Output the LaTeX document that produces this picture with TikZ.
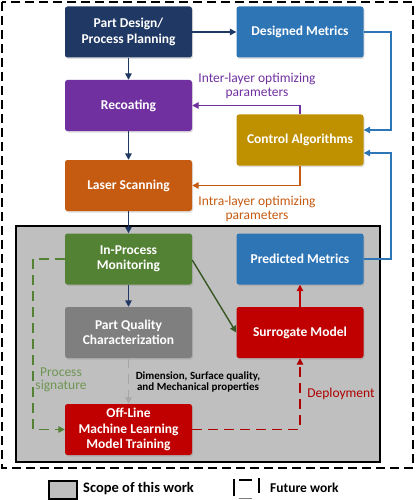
\documentclass[tikz,border=0pt]{standalone}
\usepackage{fontspec}
\setmainfont{Carlito}
\usetikzlibrary{arrows.meta,shadows}
\definecolor{cnavy}{HTML}{203864}
\definecolor{cblue}{HTML}{2E75B6}
\definecolor{cpurple}{HTML}{7030A0}
\definecolor{cgold}{HTML}{BF9000}
\definecolor{corange}{HTML}{C55A11}
\definecolor{cgreen}{HTML}{548235}
\definecolor{cdgreen}{HTML}{385723}
\definecolor{cgray}{HTML}{7F7F7F}
\definecolor{cred}{HTML}{C00000}
\definecolor{cbg}{HTML}{BFBFBF}
\definecolor{cdash}{HTML}{A6A6A6}
\begin{document}
\begin{tikzpicture}[x=1pt,y=-1pt,
  box/.style={rounded corners=2.5pt, minimum width=127pt, minimum height=51pt, text=white,
    font=\fontsize{13.5}{15.5}\selectfont\bfseries, align=center, inner sep=2pt,
    drop shadow={opacity=0.25, shadow xshift=1pt, shadow yshift=-1.5pt}},
  arr/.style={-{Triangle[length=6.5pt,width=6.5pt]}, line width=1.4pt},
  lbl/.style={font=\fontsize{13.5}{13.5}\selectfont, align=center},
  dsh/.style={dash pattern=on 10pt off 6pt}]
\useasboundingbox (0,0) rectangle (415,500);
% outer dashed frame
\draw[line width=2.5pt, dash pattern=on 9pt off 5pt] (2,2) rectangle (413,468);
% scope box
\draw[fill=cbg, line width=1.2pt] (16,226) rectangle (380,462);
% nodes
\node[box, fill=cnavy] (pd) at (128.5,32) {Part Design/\\Process Planning};
\node[box, fill=cblue] (dm) at (300,32) {Designed Metrics};
\node[box, fill=cpurple] (rc) at (128.5,105.5) {Recoating};
\node[box, fill=cgold] (ca) at (300,140) {Control Algorithms};
\node[box, fill=corange] (ls) at (128.5,185.5) {Laser Scanning};
\node[box, fill=cgreen] (ipm) at (128.5,259) {In-Process\\Monitoring};
\node[box, fill=cblue] (pm) at (300,259) {Predicted Metrics};
\node[box, fill=cgray] (pq) at (128.5,332.5) {Part Quality\\Characterization};
\node[box, fill=cred] (sm) at (300,332.5) {Surrogate Model};
\node[box, fill=cred] (ml) at (128.5,429.5) {Off-Line\\Machine Learning\\Model Training};
% navy arrows
\draw[arr, cnavy] (pd.east) -- (dm.west);
\draw[arr, cnavy] (pd.south) -- (rc.north);
\draw[arr, cnavy] (rc.south) -- (ls.north);
\draw[arr, cnavy] (ls.south) -- (ipm.north);
\draw[arr, cnavy] (ipm.south) -- (pq.north);
% blue feedback
\coordinate (c1) at (391,32);
\coordinate (c2) at (391,259);
\draw[arr, cblue] (dm.east) -- (c1) |- ([yshift=10pt]ca.east);
\draw[arr, cblue] (pm.east) -- (c2) |- ([yshift=-13pt]ca.east);
% control outputs
\draw[arr, cpurple] (ca.north) |- (rc.east);
\draw[arr, corange] (ca.south) |- (ls.east);
\node[lbl, text=cpurple] (l1) at (257,86) {Inter-layer optimizing\\parameters};
\node[lbl, text=corange] (l2) at (257,209) {Intra-layer optimizing\\parameters};
% green diagonal
\draw[arr, cdgreen] ([yshift=-1pt]ipm.east) -- (sm.west);
% surrogate to predicted
\draw[arr, cred] (sm.north) -- (pm.south);
% dashed
\draw[arr, cdash, dsh, line width=1.3pt] (pq.south) -- (ml.north);
\node[font=\fontsize{11}{11.5}\selectfont\bfseries, align=center] (l3) at (198,382) {Dimension, Surface quality,\\and Mechanical properties};
\coordinate (c3) at (33,259);
\draw[arr, cgreen, dsh] (ipm.west) -- (c3) |- (ml.west);
\node[lbl, text=cgreen!85!white] (l4) at (61,380) {Process\\signature};
\draw[arr, cred!90!black, dsh] (ml.east) -| (sm.south);
\node[lbl, text=cred!90!black] (l5) at (341,394) {Deployment};
% legend
\draw[fill=cbg, line width=1.3pt] (49,481) rectangle (77,499);
\node[anchor=west, font=\fontsize{14.5}{15}\selectfont\bfseries, inner sep=0pt] (t1) at (83,488.5) {Scope of this work};
\draw[line width=1.3pt] (234,479) -- (234,496);
\draw[line width=1.3pt] (239,480) -- (252,480);
\draw[line width=1.3pt] (259,478) -- (259,493);
\draw[line width=1.3pt, cgray] (239,498.5) -- (252,498.5);
\node[anchor=west, font=\fontsize{13.5}{14}\selectfont\bfseries, inner sep=0pt] (t2) at (270,488) {Future work};
\end{tikzpicture}
\end{document}
